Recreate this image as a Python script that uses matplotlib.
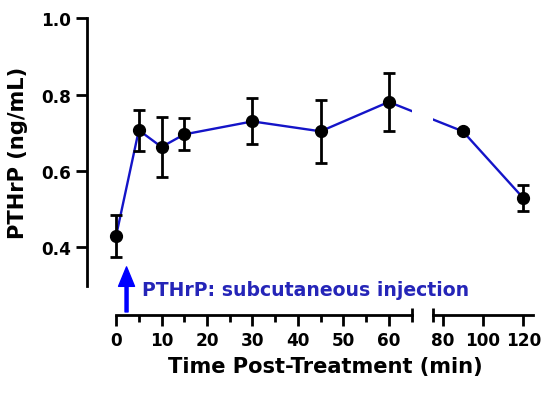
import matplotlib
matplotlib.use("Agg")
import matplotlib.pyplot as plt
import matplotlib.transforms as mtransforms
import numpy as np

plt.rcParams['font.family'] = ['DejaVu Sans']
plt.rcParams['font.weight'] = 'bold'

# data
time_min = np.array([0, 5, 10, 15, 30, 45, 60, 90, 120])
pthrp = np.array([0.430, 0.707, 0.663, 0.696, 0.730, 0.704, 0.781, 0.704, 0.529])
pthrp_err = np.array([0.056, 0.054, 0.078, 0.042, 0.060, 0.083, 0.077, 0.005, 0.034])

left_ticks = [0, 10, 20, 30, 40, 50, 60]
left_minor = [5, 15, 25, 35, 45, 55]
right_ticks = [80, 100, 120]
y_ticks = [0.4, 0.6, 0.8, 1.0]

line_col = '#1414c8'
text_col = '#2525b8'
arrow_col = '#0000ff'

fig = plt.figure(figsize=(5.5, 4.02), dpi=100)
ax1 = fig.add_axes([87 / 550, 86 / 402, 324.5 / 550, 296.7 / 402])
ax2 = fig.add_axes([432.6 / 550, 86 / 402, 100.8 / 550, 296.7 / 402])

ax1.set_xlim(-6.4, 65)
ax2.set_xlim(75, 125)
for ax in (ax1, ax2):
    ax.set_ylim(0.223, 1.0)
    ax.patch.set_alpha(0)
    ax.spines['top'].set_visible(False)
    ax.spines['right'].set_visible(False)
    ax.spines['bottom'].set_linewidth(2)
    ax.tick_params(axis='both', which='major', length=8, width=2, labelsize=12.2, pad=3.5)
    ax.tick_params(axis='x', which='minor', length=5, width=2)

ax1.spines['left'].set_linewidth(2)
ax1.spines['left'].set_bounds(0.3, 1.0)
ax1.spines['bottom'].set_bounds(0, 65)
ax2.spines['bottom'].set_bounds(75, 125)
ax2.spines['left'].set_visible(False)
ax2.tick_params(axis='y', left=False, labelleft=False)

ax1.set_yticks(y_ticks)
ax1.set_yticklabels([f'{v:.1f}' for v in y_ticks])
ax1.set_xticks(left_ticks)
ax1.set_xticks(left_minor, minor=True)
ax2.set_xticks(right_ticks)
ax2.set_xticklabels([str(v) for v in right_ticks])

# break marks at the ends of the two axis pieces
for ax, xb in ((ax1, 65), (ax2, 75)):
    trans = mtransforms.blended_transform_factory(ax.transData, ax.transAxes)
    ax.plot([xb], [0], marker='|', markersize=10, mew=2, color='black',
            transform=trans, clip_on=False)

# line drawn straight across the break, hidden in the gap
in_left = time_min <= 65
in_right = ~in_left
disp_right = ax2.transData.transform(np.column_stack([time_min[in_right], pthrp[in_right]]))
right_in_ax1 = ax1.transData.inverted().transform(disp_right)
disp_left = ax1.transData.transform(np.column_stack([time_min[in_left], pthrp[in_left]]))
left_in_ax2 = ax2.transData.inverted().transform(disp_left)

x1 = np.concatenate([time_min[in_left], right_in_ax1[:, 0]])
y1 = np.concatenate([pthrp[in_left], right_in_ax1[:, 1]])
ax1.plot(x1, y1, color=line_col, lw=1.7, zorder=2)
x2 = np.concatenate([left_in_ax2[:, 0], time_min[in_right]])
y2 = np.concatenate([left_in_ax2[:, 1], pthrp[in_right]])
ax2.plot(x2, y2, color=line_col, lw=1.7, zorder=2)

for ax, m in ((ax1, in_left), (ax2, in_right)):
    ax.errorbar(time_min[m], pthrp[m], yerr=pthrp_err[m], fmt='none', ecolor='black',
                elinewidth=2, capsize=4, capthick=2, zorder=3)
    ax.plot(time_min[m], pthrp[m], 'o', color='black', markersize=8.5, zorder=4,
            clip_on=False)

# injection marker
ax1.annotate('', xy=(2.3, 0.349), xytext=(2.3, 0.231),
             arrowprops=dict(width=2.2, headwidth=11.5, headlength=14,
                             color=arrow_col, shrink=0))
ax1.text(5.6, 0.290, 'PTHrP: subcutaneous injection', color=text_col,
         fontsize=13.6, fontweight='bold', va='center', ha='left')

ax1.set_ylabel('PTHrP (ng/mL)', fontsize=15.1, fontweight='bold')
ax1.yaxis.set_label_coords(-0.182, 0.548)
fig.text(325 / 550, 35 / 402, 'Time Post-Treatment (min)', fontsize=15.1,
         fontweight='bold', ha='center', va='center')

fig.savefig('out.png', dpi=100)
